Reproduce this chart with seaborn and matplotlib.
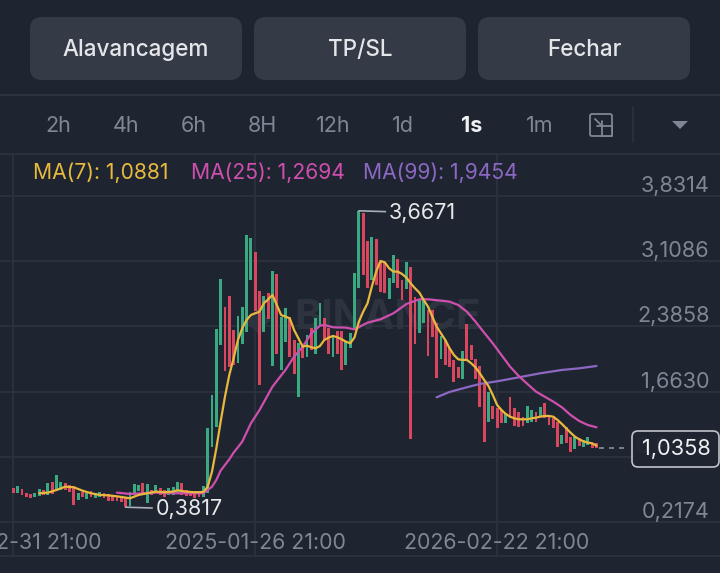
import matplotlib
matplotlib.use("Agg")
import matplotlib.pyplot as plt
import matplotlib.ticker as mticker
from matplotlib.patches import FancyBboxPatch, Rectangle
import numpy as np
import pandas as pd
import seaborn as sns

# ── Dados ────────────────────────────────────────────────────────────────────
candle_high = [
    .591, .620, .580, .543, .528, .536, .580, .572, .646, .665,
    .739, .665, .654, .628, .617, .536, .554, .543, .565, .536,
    .554, .536, .528, .517, .506, .499, .480, .554, .635, .628,
    .654, .635, .572, .628, .591, .572, .591, .609, .665, .646,
    .572, .565, .558, .554, .617, 1.263, 1.626, 2.353, 2.908, 2.605,
    2.727, 2.346, 2.505, 2.597, 3.399, 3.370, 3.214, 2.782, 2.723, 2.760,
    3.000, 2.963, 2.494, 2.586, 2.494, 2.235, 2.198, 2.180, 2.291, 2.365,
    2.475, 2.649, 2.475, 2.365, 2.272, 2.335, 2.335, 2.217, 2.317, 2.974,
    3.6671, 3.647, 3.333, 3.381, 3.351, 3.104, 3.092, 2.926, 3.177, 3.129,
    2.900, 3.100, 3.048, 2.716, 2.679, 2.679, 2.568, 2.568, 2.420, 2.280,
    2.235, 2.143, 2.014, 1.940, 2.113, 2.413, 2.180, 2.021, 1.947, 1.755,
    1.663, 1.504, 1.478, 1.459, 1.422, 1.607, 1.478, 1.441, 1.385, 1.504,
    1.459, 1.441, 1.496, 1.541, 1.393, 1.367, 1.330, 1.182, 1.275, 1.164,
    1.164, 1.145, 1.127, 1.164, 1.090, 1.090,
]
candle_low = [
    .536, .543, .517, .491, .480, .491, .506, .517, .517, .528,
    .572, .572, .572, .554, .406, .462, .491, .469, .499, .488,
    .491, .488, .447, .454, .454, .443, .3817, .395, .517, .565,
    .536, .432, .517, .536, .517, .499, .517, .517, .536, .517,
    .506, .506, .480, .491, .499, .536, 1.053, 1.275, 2.180, 1.895,
    1.940, 1.958, 1.977, 2.191, 2.328, 2.900, 2.560, 1.736, 2.328, 2.464,
    1.947, 2.076, 1.903, 2.217, 2.050, 1.858, 1.607, 2.032, 2.050, 2.124,
    2.076, 2.390, 2.235, 2.076, 2.050, 2.080, 1.903, 1.958, 2.143, 2.346,
    2.808, 2.956, 2.808, 2.900, 2.845, 2.771, 2.760, 2.686, 2.863, 2.808,
    2.679, 2.797, 1.138, 2.191, 2.317, 2.420, 2.058, 2.272, 1.810, 2.021,
    1.958, 1.932, 1.766, 1.810, 1.803, 2.014, 2.014, 1.803, 1.496, 1.108,
    1.330, 1.356, 1.263, 1.311, 1.319, 1.367, 1.286, 1.275, 1.286, 1.319,
    1.330, 1.330, 1.378, 1.367, 1.293, 1.256, 1.045, 1.082, 1.090, .997,
    1.023, 1.060, 1.053, 1.071, 1.034, 1.034,
]
candle_dir = (
    "RGRRRGGRGR" "GGRRRGRGRG" "GRRRRRRGGG" "RGRGRRGGGR" "RRRRGGGGGR"
    "RRGGGGRRGR" "GRGGRRGRGR" "GGRRGRRGGG" "GRRGRRRGGR" "RGRRGGRRRG"
    "RRRRGRRRRR" "GRRRGRRRRG" "GRGRRRRGRR" "GRGGRR"
)

ma7_idx = [6, 8, 10, 12, 14, 16, 18, 20, 22, 24, 26, 27, 29, 31, 33, 35, 37, 38, 40, 42, 44] + list(range(45, 136))
ma7_val = [
    .536, .543, .572, .609, .602, .565, .536, .517, .513, .502, .488,
    .480, .517, .536, .554, .547, .554, .569, .554, .547, .550,
    .609, .776, 1.034, 1.330, 1.607, 1.847, 2.032, 2.235, 2.365, 2.457,
    2.512, 2.531, 2.549, 2.642, 2.686, 2.734, 2.623, 2.512, 2.494, 2.475,
    2.346, 2.254, 2.161, 2.172, 2.154, 2.143, 2.169, 2.235, 2.261, 2.280,
    2.265, 2.243, 2.217, 2.198, 2.265, 2.438, 2.549, 2.642, 2.826, 2.993,
    3.111, 3.096, 3.030, 2.993, 2.993, 2.967, 2.926, 2.863, 2.808, 2.760,
    2.679, 2.605, 2.494, 2.383, 2.309, 2.235, 2.143, 2.069, 2.021, 2.014,
    2.014, 1.977, 1.932, 1.866, 1.792, 1.725, 1.626, 1.515, 1.459, 1.415,
    1.385, 1.367, 1.356, 1.356, 1.356, 1.367, 1.374, 1.385, 1.393, 1.393,
    1.385, 1.348, 1.304, 1.256, 1.208, 1.164, 1.134, 1.112, 1.097, 1.090,
    1.064,
]
ma25_idx = [24, 27, 30, 33, 37, 41, 44, 45, 46, 47, 48, 49, 50, 51, 53, 55, 57, 60, 63, 65,
            67, 69, 71, 72, 74, 77, 79, 82, 85, 88, 91, 94, 96, 99, 101, 103, 105, 107, 109,
            111, 113, 115, 117, 119, 121, 123, 125, 127, 129, 131, 133, 135]
ma25_val = [.543, .528, .536, .543, .536, .536, .536, .572, .609, .683, .787, .850, .912, .986,
            1.108, 1.311, 1.459, 1.718, 1.903, 2.050, 2.161, 2.309, 2.394, 2.402, 2.376, 2.372,
            2.353, 2.427, 2.464, 2.531, 2.634, 2.686, 2.686, 2.671, 2.660, 2.623, 2.549, 2.438,
            2.316, 2.198, 2.069, 1.940, 1.836, 1.748, 1.663, 1.607, 1.552, 1.489, 1.404, 1.337,
            1.293, 1.267]
ma99_idx = [98, 101, 105, 108, 112, 117, 122, 127, 131, 135]
ma99_val = [1.600, 1.659, 1.711, 1.748, 1.777, 1.821, 1.866, 1.903, 1.921, 1.947]

last_price = 1.0358
y_ticks = [3.8314, 3.1086, 2.3858, 1.6630, 0.9402, 0.2174]
x_tick_idx = [0, 56, 112]
x_tick_labels = ["2023-12-31 21:00", "2025-01-26 21:00", "2026-02-22 21:00"]
ma_labels = ["MA(7): 1,0881", "MA(25): 1,2694", "MA(99): 1,9454"]
buttons = ["Alavancagem", "TP/SL", "Fechar"]
tabs = ["1h", "2h", "4h", "6h", "8H", "12h", "1d", "1s", "1m"]

# ── Cores ────────────────────────────────────────────────────────────────────
BG = "#1f2530"
GRADE = "#2c333e"
BOTAO = "#343b47"
VERDE = "#3aa981"
VERMELHO = "#d9475f"
AMARELO = "#e8b93e"
MAGENTA = "#cf4fae"
ROXO = "#8c68c4"
CINZA = "#7f8794"

sns.set_theme(style="darkgrid", rc={"figure.facecolor": BG, "axes.facecolor": "none"})
plt.rcParams["font.family"] = ["Inter", "DejaVu Sans"]

fig = plt.figure(figsize=(7.2, 5.73), dpi=100)

# ── Gráfico ──────────────────────────────────────────────────────────────────
ax = fig.add_axes([0, 1 - 556 / 573, 1, (556 - 154) / 573])

df = pd.DataFrame({"high": candle_high, "low": candle_low, "dir": list(candle_dir)})
cores = df["dir"].map({"G": VERDE, "R": VERMELHO})
ax.bar(df.index, df["high"] - df["low"], bottom=df["low"], width=0.66, color=cores, linewidth=0, zorder=3)

for idx, val, cor in [(ma99_idx, ma99_val, ROXO), (ma25_idx, ma25_val, MAGENTA), (ma7_idx, ma7_val, AMARELO)]:
    sns.lineplot(x=idx, y=val, color=cor, lw=1.6, errorbar=None, ax=ax, zorder=4)

ax.set_xlim(-3.08, 163.6)
ax.set_ylim(-0.1595, 4.2968)
ax.set_xticks(x_tick_idx, x_tick_labels)
ax.set_yticks(y_ticks)
ax.yaxis.tick_right()
ax.yaxis.set_major_formatter(mticker.FuncFormatter(lambda v, _: f"{v:.4f}".replace(".", ",")))
ax.grid(True, color=GRADE, lw=1.3)
ax.set_axisbelow(True)
ax.tick_params(axis="x", length=0, pad=-16.5, labelsize=15.4, labelcolor=CINZA)
ax.tick_params(axis="y", length=0, pad=-7.5, labelsize=15.6, labelcolor=CINZA)
for tick in ax.yaxis.get_major_ticks():
    tick.label2.set_ha("right")
    tick.label2.set_va("bottom")
for lado in ["left", "right"]:
    ax.spines[lado].set_visible(False)
for lado in ["top", "bottom"]:
    ax.spines[lado].set_color(GRADE)
    ax.spines[lado].set_linewidth(1.3)

# marca d'água
ax.text(65, 2.48, "BINANCE", color="#2d3440", fontsize=29.5, fontweight="bold", va="center", ha="left", zorder=1)
ax.scatter([56.5], [2.457], marker="D", s=170, color="#2d3440", linewidth=0, zorder=1)

# máximo e mínimo
i_max = int(np.argmax(candle_high))
i_min = int(np.argmin(candle_low))
estilo_seta = dict(arrowstyle="-", color="#a9afb8", lw=1.2, shrinkA=0, shrinkB=0)
ax.annotate(f"{candle_high[i_max]:.4f}".replace(".", ","), xy=(i_max, candle_high[i_max]),
            xytext=(21.5, 0), textcoords="offset points", color="#e6e8ea", fontsize=15.5,
            va="center_baseline", arrowprops=estilo_seta, zorder=6)
ax.annotate(f"{candle_low[i_min]:.4f}".replace(".", ","), xy=(i_min, candle_low[i_min]),
            xytext=(21.5, 0), textcoords="offset points", color="#e6e8ea", fontsize=15.5,
            va="center_baseline", arrowprops=estilo_seta, zorder=6)

# preço atual
ax.plot([135.6, 142.5], [last_price, last_price], color="#8b919b", lw=1.2, ls=(0, (3, 3)), zorder=4)

# ── Interface (px da tela) ───────────────────────────────────────────────────
ui = fig.add_axes([0, 0, 1, 1], facecolor="none")
ui.set_xlim(0, 720)
ui.set_ylim(573, 0)
ui.axis("off")

for texto, x0 in zip(buttons, [30, 254, 478]):
    ui.add_patch(FancyBboxPatch((x0 + 12, 29), 212 - 24, 63 - 24, boxstyle="round,pad=12,rounding_size=12",
                                fc=BOTAO, ec="none"))
    ui.text(x0 + 106, 50, texto, color="#e4e6e9", fontsize=16.2, fontweight="medium", ha="center", va="center")

ui.plot([0, 720], [95, 95], color=GRADE, lw=1.5)

for texto, x in zip(tabs, [-10, 58, 126, 194, 262, 333, 403, 472, 540]):
    ativo = texto == "1s"
    ui.text(x, 126, texto, color="#f0f1f3" if ativo else CINZA, fontsize=15.5,
            fontweight="bold" if ativo else "normal", ha="center", va="center")

# ícone e seletor
ui.add_patch(FancyBboxPatch((590, 114), 22, 22, boxstyle="round,pad=0,rounding_size=2", fc="none", ec=CINZA, lw=1.3))
ui.add_patch(Rectangle((602, 126), 10, 10, fc=BG, ec=CINZA, lw=1.3))
ui.plot([595, 602], [119, 126], color=CINZA, lw=1.3)
ui.plot([597, 602, 602], [126, 126, 121], color=CINZA, lw=1.3)
ui.plot([633, 633], [107, 142], color=GRADE, lw=1.2)
ui.fill([672, 688, 680], [121, 121, 129], color=CINZA, lw=0)

for texto, x, cor in zip(ma_labels, [33, 191, 363], [AMARELO, MAGENTA, ROXO]):
    ui.text(x, 173, texto, color=cor, fontsize=15.2, ha="left", va="center")

# caixa do preço atual
ui.add_patch(FancyBboxPatch((638, 437), 75, 24, boxstyle="round,pad=6,rounding_size=6",
                            fc=BG, ec="#c9ccd1", lw=1.2, alpha=0.95))
ui.text(676, 449, f"{last_price:.4f}".replace(".", ","), color="#f0f1f3", fontsize=15.7, ha="center", va="center")

fig.savefig("out.png", dpi=100, facecolor=BG)
plt.close()
